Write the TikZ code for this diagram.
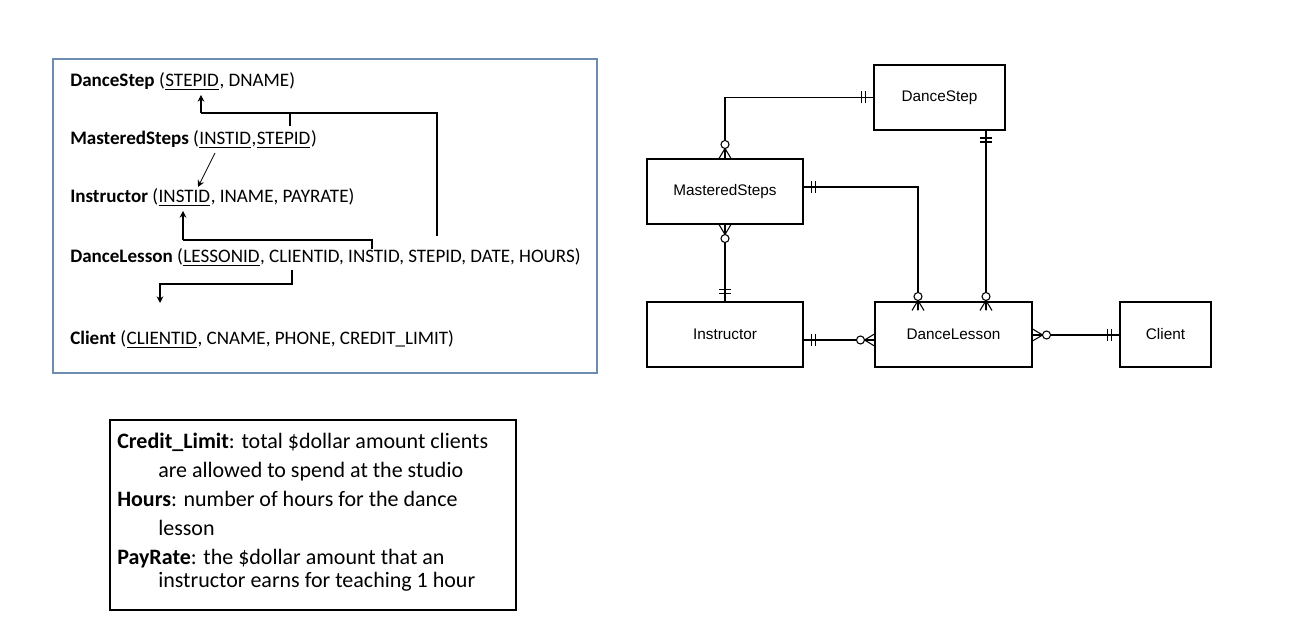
\documentclass[tikz,border=0pt]{standalone}
\usepackage{fontspec}
\usetikzlibrary{arrows.meta}
\setmainfont{Carlito}
\newfontfamily\arifont{Liberation Sans}
\begin{document}
\begin{tikzpicture}[x=0.75pt,y=-0.75pt,
  t/.style={inner sep=0pt,anchor=base west,font=\fontsize{14.3}{16}\selectfont},
  ent/.style={draw,line width=0.8pt,minimum width=#1*0.75pt,minimum height=48.75pt,font=\arifont\fontsize{11.5}{13}\selectfont,inner sep=0pt},
  rel/.style={line width=1.1pt,-{Stealth[length=5pt,width=5pt]}},
  ln/.style={line width=1.1pt},
  er/.style={line width=0.8pt},
  one/.pic={\draw[line width=0.8pt] (8,-6)--(8,6) (12,-6)--(12,6);},
  many/.pic={\draw[line width=0.8pt] (0,-6)--(10,0)--(0,6) (0,0)--(10,0); \draw[line width=0.8pt,fill=white] (14,0) circle (4);}
]
\useasboundingbox (0,0) rectangle (1296,630);
% left relational box
\draw[draw={rgb,255:red,110;green,140;blue,175},line width=0.8pt] (53,59) rectangle (597,373);
\node[t] (ds1) at (70,87) {\textbf{DanceStep} (};
\node[t] (ds2) at (ds1.base east) {\underline{STEPID}};
\node[t] (ds3) at (ds2.base east) {, DNAME)};
\node[t] (ms1) at (70,145) {\textbf{MasteredSteps} (};
\node[t] (ms2) at (ms1.base east) {\underline{INSTID}};
\node[t] (ms3) at (ms2.base east) {,\ };
\node[t] (ms4) at (ms3.base east) {\underline{STEPID}};
\node[t] (ms5) at (ms4.base east) {)};
\node[t] (in1) at (70,203) {\textbf{Instructor} (};
\node[t] (in2) at (in1.base east) {\underline{INSTID}};
\node[t] (in3) at (in2.base east) {, INAME, PAYRATE)};
\node[t] (dl1) at (70,263) {\textbf{DanceLesson} (};
\node[t] (dl2) at (dl1.base east) {\underline{LESSONID}};
\node[t] (dl3) at (dl2.base east) {, CLIENTID, INSTID, STEPID, DATE,\ HOURS)};
\node[t] (cl1) at (70,345) {\textbf{Client} (};
\node[t] (cl2) at (cl1.base east) {\underline{CLIENTID}};
\node[t] (cl3) at (cl2.base east) {, CNAME, PHONE, CREDIT\_LIMIT)};
\coordinate (a1) at (201,113);
\coordinate (a2) at (437,113);
\draw[rel] (a1) -- (201,95);
\draw[ln] (a1) -- (a2) -- (437,236);
\draw[ln] (290,113) -- (290,126);
\draw[line width=0.6pt,-{Stealth[length=5pt,width=5pt]}] (215,153) -- (198,187);
\coordinate (b1) at (183,240);
\draw[rel] (b1) -- (183,211);
\draw[ln] (b1) -- (372,240) -- (372,249);
\coordinate (c1) at (292,284);
\draw[ln] (292,270) -- (c1) -- (160,284);
\draw[rel] (160,283.5) -- (160,303);
% bottom note
\node[draw,line width=0.8pt,minimum width=304.5pt,minimum height=142.5pt,inner sep=0pt] (note) at (313,515) {};
\begin{scope}[t/.append style={font=\fontsize{16.5}{19}\selectfont}]
\node[t] (n1) at (117,449) {\textbf{Credit\_Limit}: total \$dollar amount clients};
\node[t] (n2) at (158,478) {are allowed to spend at the studio};
\node[t] (n3) at (117,507) {\textbf{Hours}: number of hours for the dance};
\node[t] (n4) at (158,536) {lesson};
\node[t] (n5) at (117,565) {\textbf{PayRate}: the \$dollar amount that an};
\node[t] (n6) at (158,588) {instructor earns for teaching 1 hour};
\end{scope}
% ER diagram
\node[ent=131] (DS) at (939.5,97.5) {DanceStep};
\node[ent=156] (MS) at (725,191.5) {MasteredSteps};
\node[ent=156] (IN) at (725,334.5) {Instructor};
\node[ent=157] (DL) at (953.5,334.5) {DanceLesson};
\node[ent=91] (CL) at (1165.5,334.5) {Client};
\draw[er] (MS.north) -- (MS.north |- DS.west) -- (DS.west);
\pic[rotate=90] at (MS.north) {many};
\pic[rotate=180] at (DS.west) {one};
\draw[er] (MS.east |- 0,187) -- (918,187) -- (918,310.5);
\pic[rotate=0] at (MS.east |- 0,187) {one};
\pic[rotate=90] at (918,310.5) {many};
\draw[er] (986,130) -- (986,310.5);
\pic[rotate=-90] at (986,130) {one};
\pic[rotate=90] at (986,310.5) {many};
\draw[er] (MS.south) -- (IN.north);
\pic[rotate=-90] at (MS.south) {many};
\pic[rotate=90] at (IN.north) {one};
\draw[er] (IN.east |- 0,340) -- (DL.west |- 0,340);
\pic at (IN.east |- 0,340) {one};
\pic[rotate=180] at (DL.west |- 0,340) {many};
\draw[er] (DL.east |- 0,335) -- (CL.west |- 0,335);
\pic at (DL.east |- 0,335) {many};
\pic[rotate=180] at (CL.west |- 0,335) {one};
\end{tikzpicture}
\end{document}
